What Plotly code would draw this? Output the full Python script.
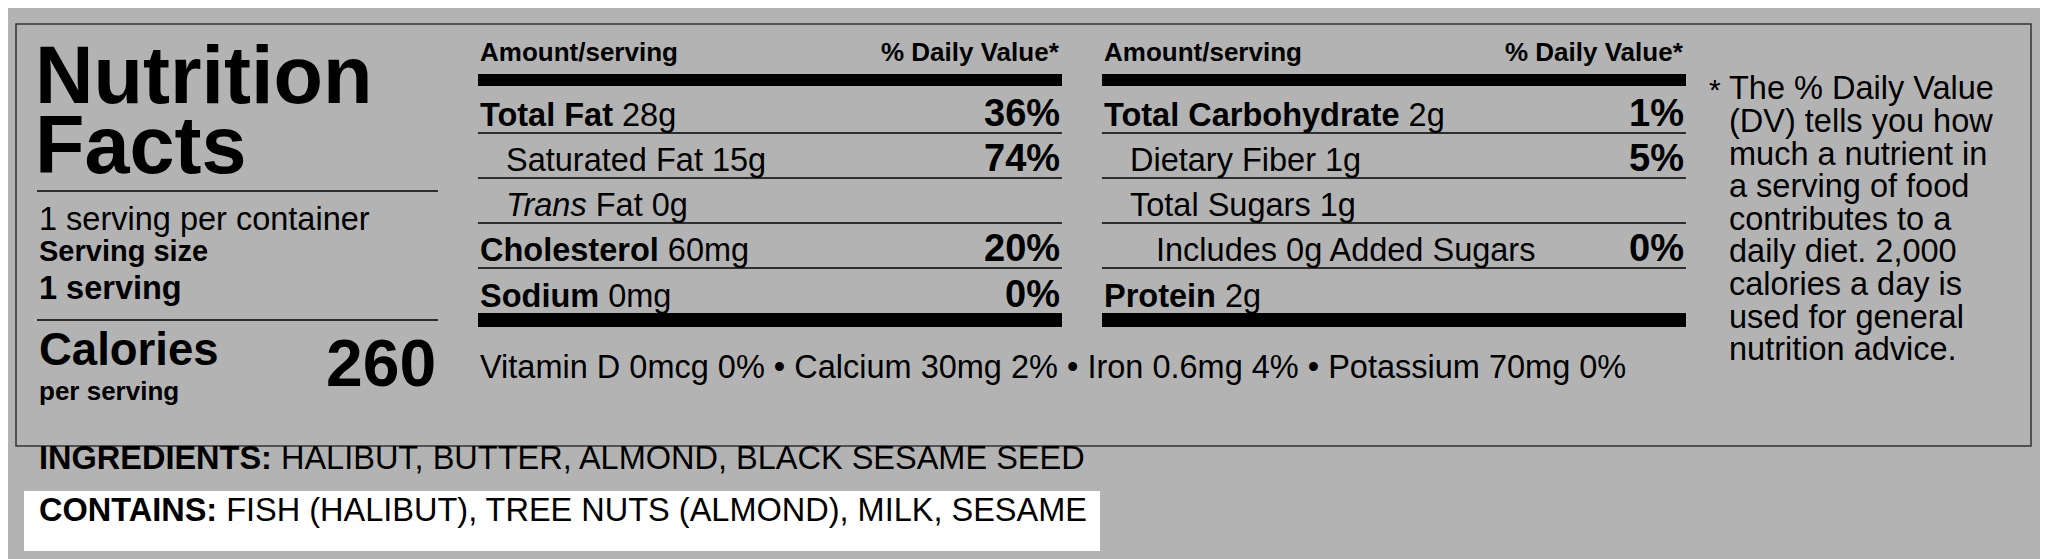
import plotly.graph_objects as go

left_rows = [("<b>Total Fat</b> 28g", "36%", 0), ("Saturated Fat 15g", "74%", 1),
             ("<i>Trans</i> Fat 0g", "", 1), ("<b>Cholesterol</b> 60mg", "20%", 0),
             ("<b>Sodium</b> 0mg", "0%", 0)]
right_rows = [("<b>Total Carbohydrate</b> 2g", "1%", 0), ("Dietary Fiber 1g", "5%", 1),
              ("Total Sugars 1g", "", 1), ("Includes 0g Added Sugars", "0%", 2),
              ("<b>Protein</b> 2g", "", 0)]
vitamins = "Vitamin D 0mcg 0% • Calcium 30mg 2% • Iron 0.6mg 4% • Potassium 70mg 0%"
footnote = ["The % Daily Value", "(DV) tells you how", "much a nutrient in", "a serving of food",
            "contributes to a", "daily diet. 2,000", "calories a day is", "used for general",
            "nutrition advice."]
ingredients = "<b>INGREDIENTS:</b> HALIBUT, BUTTER, ALMOND, BLACK SESAME SEED"
contains = "<b>CONTAINS:</b> FISH (HALIBUT), TREE NUTS (ALMOND), MILK, SESAME"

F = "Liberation Sans, Arial, sans-serif"
DX, DY = -8, -8
fig = go.Figure()
ann, shp = [], []

def T(x, base, text, size, anchor="left"):
    ann.append(dict(x=x + DX, y=base + DY - 0.36 * size, text=text, xanchor=anchor, yanchor="middle",
                    showarrow=False, font=dict(family=F, size=size, color="black"), xref="x", yref="y"))

def R(x0, x1, y0, y1, **kw):
    d = dict(type="rect", x0=x0 + DX, x1=x1 + DX, y0=y0 + DY, y1=y1 + DY, xref="x", yref="y")
    d.update(kw)
    shp.append(d)

def L(x0, x1, y, w):
    shp.append(dict(type="line", x0=x0 + DX, x1=x1 + DX, y0=y + DY, y1=y + DY,
                    line=dict(color="black", width=w), xref="x", yref="y"))

R(16, 2031, 24, 446, line=dict(color="#333", width=1.5))
R(24, 1100, 491, 551, fillcolor="white", line=dict(width=0), layer="below")

T(33, 104, "<b>Nutrition</b>", 81)
T(33, 174, "<b>Facts</b>", 81)
L(37, 438, 191, 1.5)
T(37, 231, "1 serving per container", 32.5)
T(37, 261, "<b>Serving size</b>", 29)
T(37, 300, "<b>1 serving</b>", 32.5)
L(37, 438, 320, 1.5)
T(37, 366, "<b>Calories</b>", 45.5)
T(37, 400, "<b>per serving</b>", 26)
T(438, 387, "<b>260</b>", 66, "right")

for x0, x1, rows in [(478, 1062, left_rows), (1102, 1686, right_rows)]:
    T(x0, 61, "<b>Amount/serving</b>", 26)
    T(x1, 61, "<b>% Daily Value*</b>", 26, "right")
    R(x0, x1, 74, 86, fillcolor="black", line=dict(width=0))
    bases = [127, 172, 217, 262, 308]
    for i, (lab, pct, ind) in enumerate(rows):
        T(x0 + ind * 26, bases[i], lab, 32.5)
        if pct:
            T(x1, bases[i], "<b>" + pct + "</b>", 38, "right")
        if i < 4:
            L(x0, x1, bases[i] + 6, 1.5)
    R(x0, x1, 313, 327, fillcolor="black", line=dict(width=0))

T(478, 379, vitamins, 32.5)
T(1707, 100, "*", 30)
for i, s in enumerate(footnote):
    T(1727, 100 + i * 32.6, s, 32.5)
T(37, 470, ingredients, 32.5)
T(37, 522, contains, 32.5)

fig.update_layout(width=2048, height=559, margin=dict(l=0, r=0, t=0, b=0),
                  paper_bgcolor="#b3b3b3", plot_bgcolor="#b3b3b3",
                  xaxis=dict(range=[0, 2048], visible=False, fixedrange=True),
                  yaxis=dict(range=[559, 0], visible=False, fixedrange=True),
                  annotations=ann, shapes=shp, showlegend=False)
fig.write_html("out.html")
